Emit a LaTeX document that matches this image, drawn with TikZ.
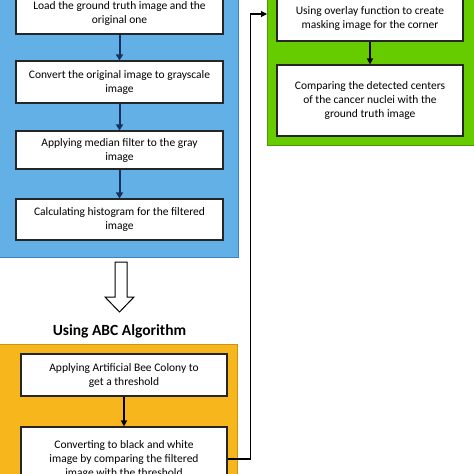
\documentclass[tikz,border=0pt]{standalone}
\usepackage{fontspec}
\setmainfont{Carlito}
\usepackage{tikz}
\usetikzlibrary{arrows.meta}

\definecolor{panelblue}{HTML}{62B0E6}
\definecolor{edgeblue}{HTML}{3C82C4}
\definecolor{panelgreen}{HTML}{66CC00}
\definecolor{edgegreen}{HTML}{4A9A00}
\definecolor{panelorange}{HTML}{F6B61C}
\definecolor{edgeorange}{HTML}{C99118}
\definecolor{navy}{HTML}{1A2F5E}

\begin{document}
\begin{tikzpicture}[x=1pt, y=-1pt,
    stepbox/.style={draw=black!85, line width=1.1pt, fill=white, align=center,
        font=\fontsize{11.5}{14}\selectfont, inner sep=2pt},
    bluearrow/.style={draw=navy, line width=2pt, -{Triangle[length=6pt, width=7pt]}},
    blackarrow/.style={draw=black, line width=1.3pt, -{Triangle[length=6pt, width=6pt]}}]
                \clip (0,0) rectangle (474,474);
                % panels
                \draw [fill=panelblue, draw=edgeblue, line width=1pt] (-5,-10) rectangle (238,257);
                \draw [fill=panelgreen, draw=edgegreen, line width=1pt] (267,-10) rectangle (480,145);
                \draw [fill=panelorange, draw=edgeorange, line width=1pt] (-5,344) rectangle (237,490);

                % blue steps
                \node (load) [stepbox, minimum width=207pt, minimum height=41pt] at (119.5,13.5)
                    {Load the ground truth image and the\\original one};
                \node (gray) [stepbox, minimum width=207pt, minimum height=42pt] at (119.5,82)
                    {Convert the original image to grayscale\\image};
                \node (median) [stepbox, minimum width=207pt, minimum height=38pt] at (119.5,150)
                    {Applying median filter to the gray\\image};
                \node (hist) [stepbox, minimum width=207pt, minimum height=41pt] at (119.5,219.5)
                    {Calculating histogram for the filtered\\image};
                \draw [bluearrow] (load) -- (gray);
                \draw [bluearrow] (gray) -- (median);
                \draw [bluearrow] (median) -- (hist);

                % hollow arrow and title
                \draw [line width=1pt, fill=white] (115,262) -- (127,262) -- (127,297) -- (134,297)
                    -- (119.5,312) -- (105,297) -- (115,297) -- cycle;
                \node (abctitle) at (119.5,331) {\fontsize{15.5}{17}\selectfont\bfseries Using ABC Algorithm};

                % orange steps
                \node (abc) [stepbox, minimum width=206pt, minimum height=42pt] at (124,375)
                    {Applying Artificial Bee Colony to\\get a threshold};
                \node (bw) [stepbox, minimum width=206pt, minimum height=64pt] at (124,459)
                    {Converting to black and white\\image by comparing the filtered\\image with the threshold};
                \draw [blackarrow] (abc) -- (bw);

                % green steps
                \node (overlay) [stepbox, minimum width=186pt, minimum height=46pt] at (370,18)
                    {Using overlay function to create\\masking image for the corner};
                \node (compare) [stepbox, minimum width=186pt, minimum height=71pt] at (370,100.5)
                    {Comparing the detected centers\\of the cancer nuclei with the\\ground truth image};
                \draw [blackarrow] (overlay) -- (compare);

                % link to green panel
                \coordinate (entry) at (267,14);
                \draw [line width=1.1pt, -{Triangle[length=6pt, width=6pt]}] (bw.east) -- ++(23,0) |- (entry);
            \end{tikzpicture}
\end{document}
